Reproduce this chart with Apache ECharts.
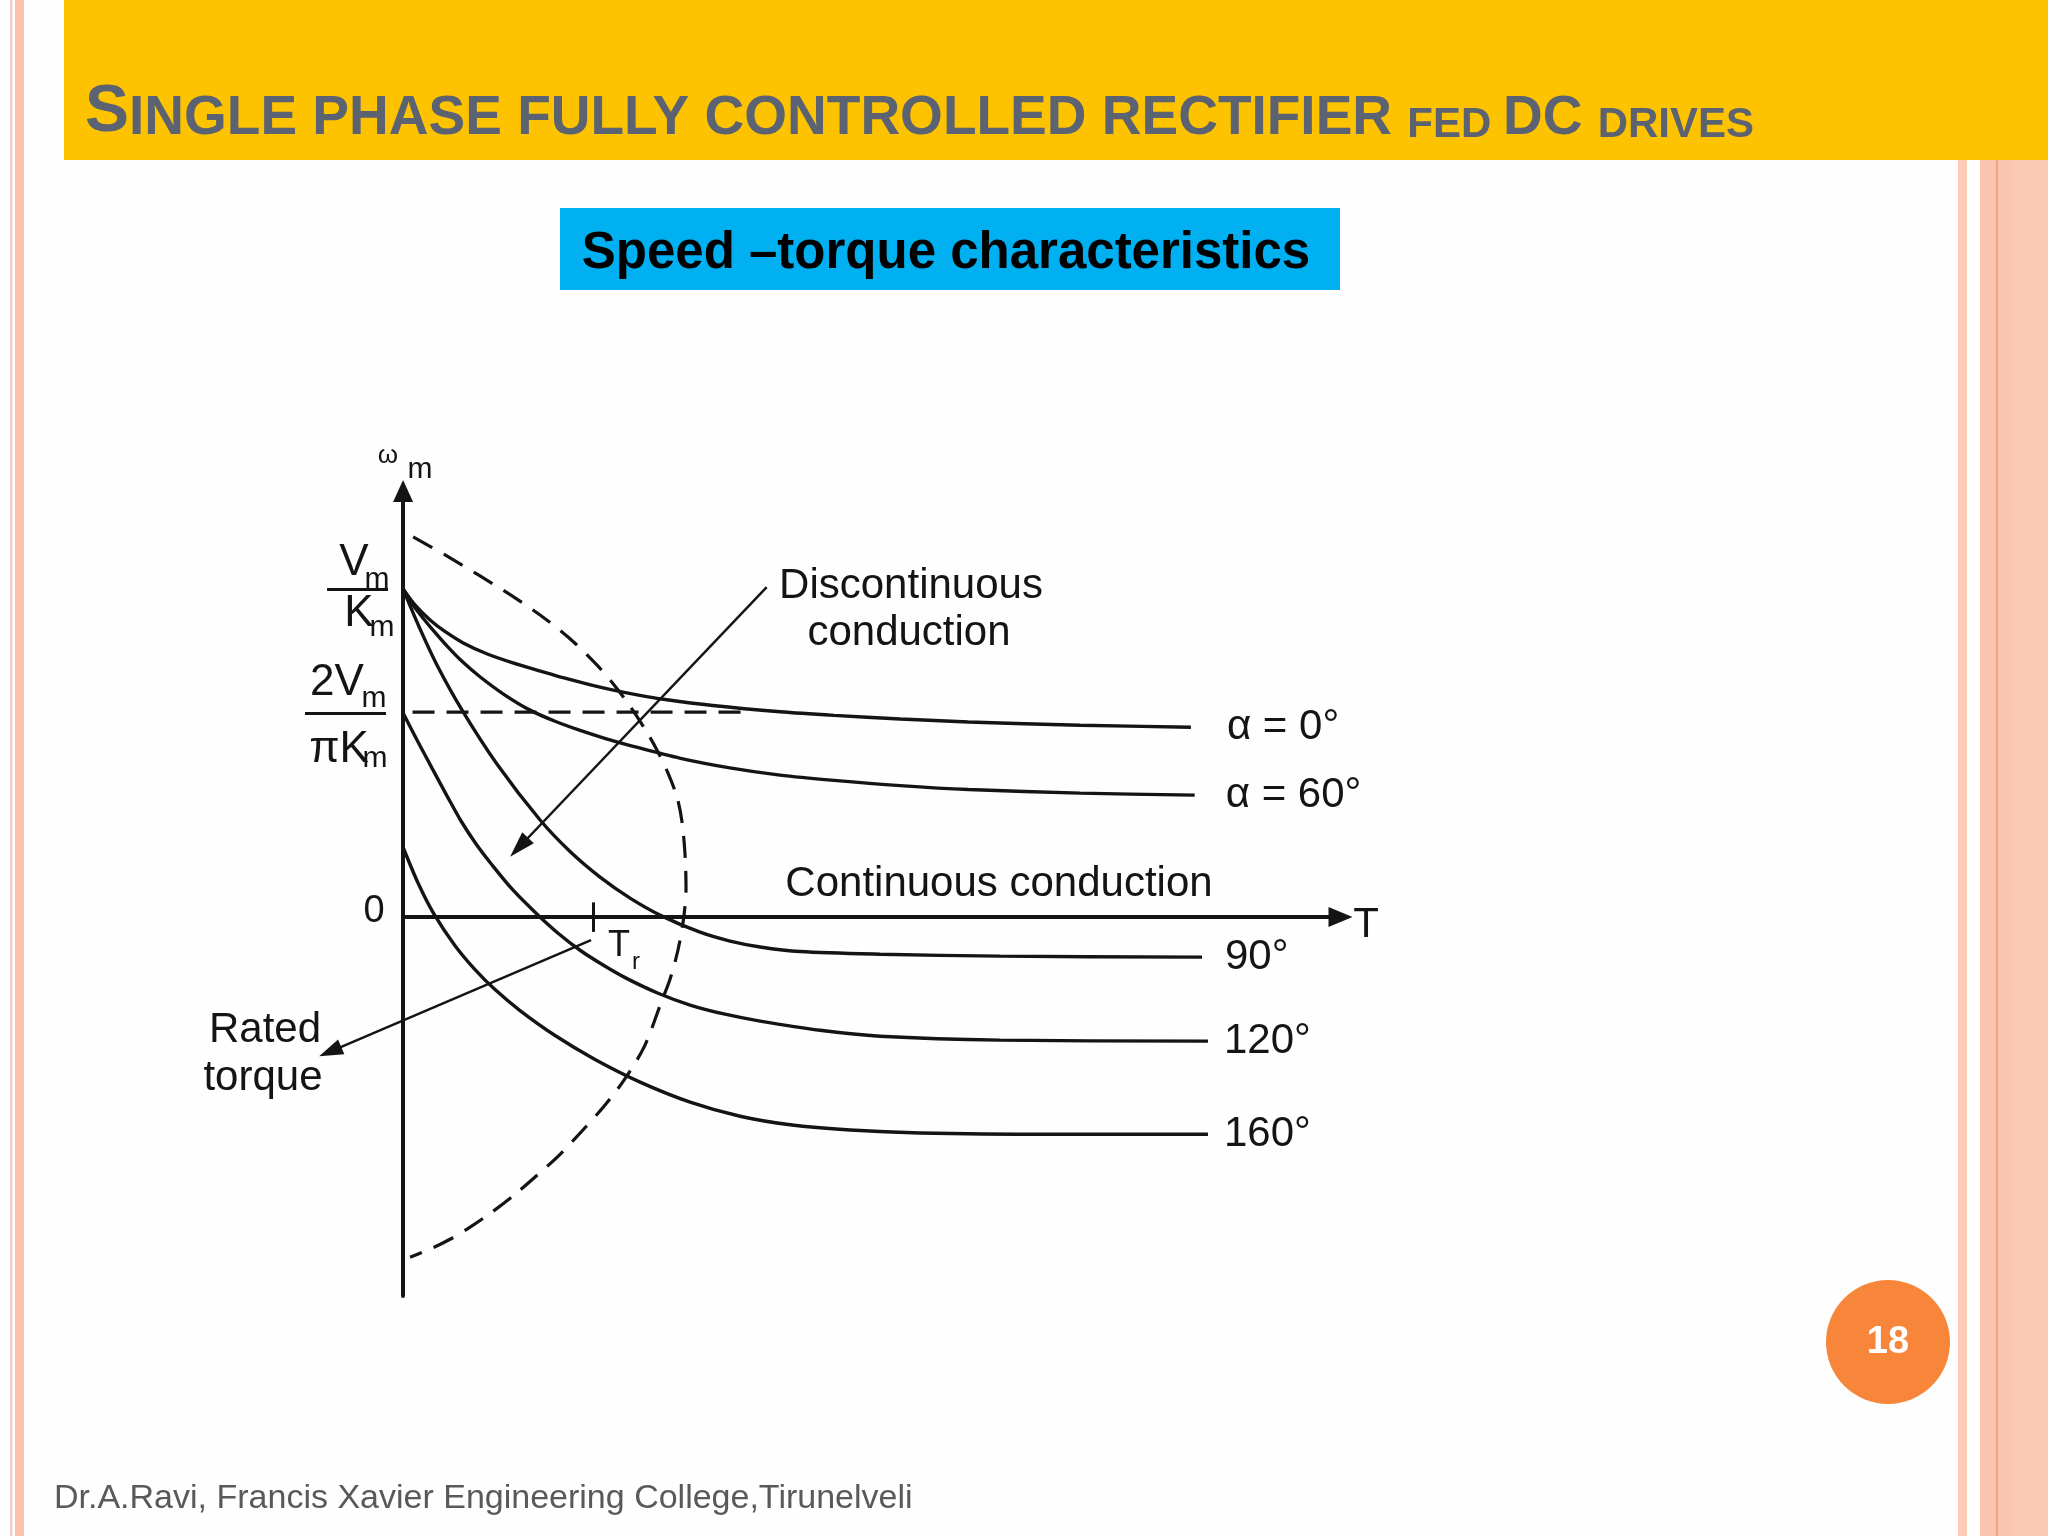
<!DOCTYPE html>
<html><head><meta charset="utf-8">
<script src="https://cdn.jsdelivr.net/npm/echarts/dist/echarts.min.js"></script>
<style>html,body{margin:0;padding:0;background:#fff}#c{width:2048px;height:1536px}</style>
</head><body><div id="c"></div>
<script>
// ---- data (T in normalised torque units, speed in units of Vm/Km) ----
const curveNames = ['α = 0°', 'α = 60°', '90°', '120°', '160°'];
const alpha0   = [[0,1.0],[1.3,0.950],[2.85,0.906],[4.45,0.870],[6.35,0.836],[8.9,0.802],[11.6,0.775],[14.5,0.750],[17.0,0.729],[19.8,0.708],[22.2,0.692],[25.0,0.676],[27.5,0.664],[32.7,0.645],[39.8,0.626],[45.5,0.615],[52.5,0.604],[59.7,0.595],[71.5,0.585],[83.2,0.579]];
const alpha60  = [[0,1.0],[0.95,0.955],[2.1,0.912],[3.3,0.870],[4.65,0.826],[6.25,0.779],[8.15,0.732],[10.6,0.680],[13.4,0.631],[16.05,0.597],[18.7,0.569],[21.3,0.545],[24.0,0.523],[29.3,0.484],[34.5,0.455],[39.8,0.433],[45.5,0.417],[52.5,0.401],[59.7,0.389],[71.5,0.378],[83.6,0.372]];
const alpha90  = [[0,1.0],[1.80,0.878],[3.59,0.768],[6.23,0.631],[9.93,0.466],[14.47,0.296],[17.63,0.200],[20.80,0.122],[23.97,0.058],[27.35,0.003],[31.36,-0.046],[34.53,-0.073],[37.70,-0.091],[41.92,-0.105],[50.37,-0.113],[63.04,-0.119],[84.37,-0.122]];
const alpha120 = [[0,0.622],[1.58,0.534],[3.17,0.448],[4.65,0.369],[6.12,0.293],[7.71,0.223],[9.40,0.159],[11.62,0.082],[14.15,0.009],[16.37,-0.049],[18.69,-0.101],[21.12,-0.146],[23.55,-0.186],[26.93,-0.232],[30.31,-0.268],[34.0,-0.296],[37.70,-0.317],[44.03,-0.345],[50.37,-0.363],[63.04,-0.375],[85.0,-0.378]];
const alpha160 = [[0,0.213],[1.58,0.104],[3.27,0.009],[5.49,-0.087],[7.60,-0.160],[9.71,-0.221],[12.35,-0.285],[16.05,-0.361],[20.27,-0.434],[25.03,-0.503],[30.31,-0.564],[35.59,-0.607],[40.87,-0.633],[47.20,-0.649],[54.59,-0.658],[68.32,-0.662],[85.0,-0.662]];
const boundary = [[1.06,1.159],[4.44,1.104],[8.13,1.040],[11.83,0.973],[15.21,0.905],[18.16,0.835],[20.49,0.768],[22.39,0.704],[23.97,0.643],[25.55,0.573],[26.82,0.509],[27.98,0.439],[28.93,0.366],[29.46,0.290],[29.78,0.189],[29.88,0.088],[29.67,0.006],[29.25,-0.070],[28.72,-0.137],[28.09,-0.198],[27.35,-0.253],[25.55,-0.390],[23.55,-0.488],[21.33,-0.573],[18.90,-0.652],[16.58,-0.723],[14.15,-0.787],[11.83,-0.845],[9.40,-0.899],[7.08,-0.945],[4.96,-0.982],[2.85,-1.012],[0.74,-1.037]];
const dcLevel  = [[1.0,0.625],[36,0.625]];            // 2Vm/(πKm)
const tAxis      = [[0,0],[99,0]];
const discArrow  = [[38.4,1.006],[12.25,0.213]];
const ratedArrow = [[19.85,-0.07],[-7.7,-0.41]];
const trTick     = [[20.06,0.045],[20.06,-0.045]];

const FONT = 'Liberation Sans, Arial, sans-serif';
const INK = '#141414';

const chart = echarts.init(document.getElementById('c'), null, {renderer: 'canvas'});

function curve(name, data, dist) {
  return {
    name, type: 'line', data, showSymbol: false, smooth: 0.3, silent: true,
    lineStyle: {color: INK, width: 3.4}, z: 3,
    endLabel: {show: true, formatter: p => p.seriesName, distance: dist,
      color: INK, fontSize: 42, fontFamily: FONT}
  };
}
function seg(pts, endSym, size, width) {
  return [
    {coord: pts[0], symbol: 'none'},
    {coord: pts[1], symbol: endSym, symbolSize: size, lineStyle: {color: INK, width: width, type: 'solid'}}
  ];
}

function txt(text, x, y, size, opt) {
  opt = opt || {};
  return {type: 'text', x, y, z: 20, silent: true,
    style: Object.assign({text, fill: opt.fill || INK, fontSize: size, fontFamily: FONT,
      fontWeight: opt.weight || 'normal',
      align: opt.align || 'center', verticalAlign: opt.va || 'middle',
      textAlign: opt.align || 'center', textVerticalAlign: opt.va || 'middle'}, opt.style || {})};
}
function rect(x, y, w, h, fill, z) {
  return {type: 'rect', shape: {x, y, width: w, height: h}, style: {fill}, z: z || 1, silent: true};
}

const graphic = [
  // slide chrome
  rect(10, 0, 2.5, 1536, '#f6cfc2'),
  rect(15, 0, 9, 1536, '#fbc3ae'),
  rect(64, 0, 1984, 160, '#fdc300'),
  rect(1958, 160, 9, 1376, '#fbcab9'),
  rect(1980, 160, 16, 1376, '#fbc5b1'),
  rect(1996, 160, 2, 1376, '#f4a27f'),
  rect(1998, 160, 14, 1376, '#fbc5b1'),
  rect(2012, 160, 36, 1376, '#fbc9b6'),
  {type: 'text', x: 85, y: 146, z: 20, silent: true,
    style: {text: '{a|S}{b|INGLE PHASE FULLY CONTROLLED RECTIFIER }{c|FED }{b|DC }{c|DRIVES}',
      align: 'left', verticalAlign: 'bottom', textAlign: 'left', textVerticalAlign: 'bottom',
      fill: '#5b6271', fontFamily: FONT, fontWeight: 'bold',
      rich: {
        a: {fontSize: 66, fontWeight: 'bold', fontFamily: FONT, fill: '#5b6271', color: '#5b6271', verticalAlign: 'bottom'},
        b: {fontSize: 55, fontWeight: 'bold', fontFamily: FONT, fill: '#5b6271', color: '#5b6271', verticalAlign: 'bottom'},
        c: {fontSize: 42, fontWeight: 'bold', fontFamily: FONT, fill: '#5b6271', color: '#5b6271', verticalAlign: 'bottom'}
      }}},
  rect(560, 208, 780, 82, '#00b0f0'),
  txt('Speed –torque characteristics', 946, 254, 51, {weight: 'bold', fill: '#000'}),
  {type: 'circle', shape: {cx: 1888, cy: 1342, r: 62}, style: {fill: '#f7863a'}, z: 1, silent: true},
  txt('18', 1888, 1343, 38, {weight: 'bold', fill: '#ffffff'}),
  txt('Dr.A.Ravi, Francis Xavier Engineering College,Tirunelveli', 54, 1499, 34, {align: 'left', fill: '#595959'}),
  // axis / chart annotations
  txt('ω', 388, 456, 26),
  txt('m', 420, 470, 30),
  txt('V', 354, 563, 44),
  txt('m', 377, 580, 30),
  rect(327, 588, 61, 3, INK, 20),
  txt('K', 359, 614, 44),
  txt('m', 382, 628, 30),
  txt('2V', 337, 683, 44),
  txt('m', 374, 699, 30),
  rect(305, 712, 81, 3, INK, 20),
  txt('πK', 339, 750, 44),
  txt('m', 375, 759, 30),
  txt('0', 374, 912, 38),
  txt('T', 1366, 925, 42),
  txt('T', 619, 946, 36),
  txt('r', 636, 962, 24),
  txt('Rated', 265, 1030, 42),
  txt('torque', 263, 1078, 42),
  txt('Discontinuous', 911, 586, 42),
  txt('conduction', 909, 633, 42),
  txt('Continuous conduction', 999, 884, 42)
];

const option = {
  animation: false,
  backgroundColor: '#fefefe',
  grid: {left: 119, right: 698, top: 491, bottom: 240, containLabel: false, outerBoundsMode: 'none'},
  xAxis: {type: 'value', min: -30, max: 100, axisLine: {show: false}, axisTick: {show: false},
    axisLabel: {show: false}, splitLine: {show: false}},
  yAxis: {type: 'value', min: -1.155, max: 1.299,
    axisLine: {show: true, onZero: true, symbol: ['none', 'triangle'], symbolSize: [20, 22],
      lineStyle: {color: INK, width: 4}},
    axisTick: {show: false}, axisLabel: {show: false}, splitLine: {show: false}},
  graphic,
  series: [
    curve(curveNames[0], alpha0, 36),
    curve(curveNames[1], alpha60, 31),
    curve(curveNames[2], alpha90, 23),
    curve(curveNames[3], alpha120, 16),
    curve(curveNames[4], alpha160, 16),
    {name: 'boundary', type: 'line', data: boundary, showSymbol: false, smooth: 0.3, silent: true,
      lineStyle: {color: INK, width: 3.2, type: [22, 13]}, z: 3},
    {name: 'dc', type: 'line', data: dcLevel, showSymbol: false, silent: true,
      lineStyle: {color: INK, width: 3.2, type: [22, 12]}, z: 3,
      markLine: {silent: true, animation: false, label: {show: false},
        lineStyle: {color: INK, type: 'solid'},
        data: [
          seg(tAxis, 'triangle', [20, 24], 4),
          seg(discArrow, 'triangle', [16, 26], 2.5),
          seg(ratedArrow, 'triangle', [16, 24], 2.5),
          seg(trTick, 'none', 1, 3)
        ]}}
  ]
};
chart.setOption(option);
</script>
</body></html>
